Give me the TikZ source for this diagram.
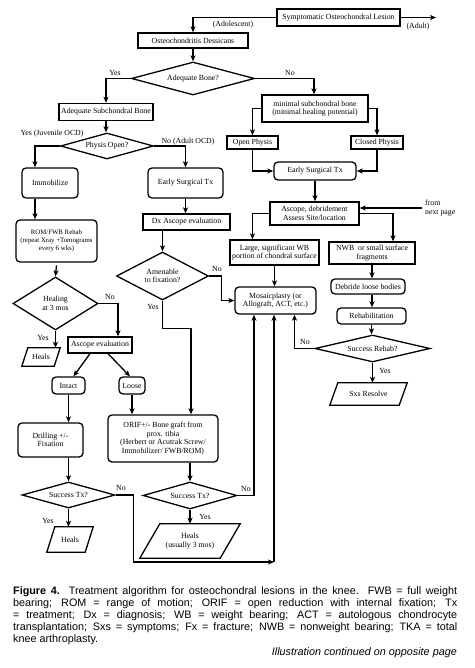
\documentclass[tikz,border=0pt]{standalone}
\usepackage{fontspec}
\setmainfont{Liberation Serif}
\newfontfamily\capfont{Liberation Sans}
\usetikzlibrary{shapes.geometric,arrows.meta,calc}
\newcommand\plgram[2]{\draw[line width=1.3pt,line join=miter] ([xshift=#2]#1.north west) -- (#1.north east) -- ([xshift=-#2]#1.south east) -- (#1.south west) -- cycle;}
\begin{document}
\begin{tikzpicture}[x=1pt,y=-1pt,
  every node/.style={font=\fontsize{7.8}{8.6}\selectfont, inner sep=0pt, align=center},
  sq/.style={draw, line width=1.3pt},
  rbox/.style={draw, line width=1.3pt, rounded corners=4pt},
  dia/.style={draw, diamond, line width=1.3pt},
  lbl/.style={font=\fontsize{7.8}{8.6}\selectfont},
  arr/.style={line width=1.3pt, -{Stealth[length=6pt,width=5pt,inset=1.5pt]}},
  ln/.style={line width=1.3pt}]
\useasboundingbox (0,0) rectangle (474,668);
% ---- nodes
\node[sq, minimum width=123pt, minimum height=17pt] (sym) at (338.5,17.5) {Symptomatic Osteochondral Lesion};
\node[sq, minimum width=110pt, minimum height=15pt] (ocd) at (193,40.5) {Osteochondritis Dessicans};
\node[dia, minimum width=123pt, minimum height=33pt, aspect=3.7] (adeq) at (193,78.5) {Adequate Bone?};
\node[sq, minimum width=94pt, minimum height=17pt] (asb) at (106,112) {Adequate Subchondral Bone};
\node[dia, minimum width=93pt, minimum height=26pt, aspect=3.6] (physis) at (107,146) {Physis Open?};
\node[rbox, minimum width=56pt, minimum height=30pt] (immob) at (50,183) {Immobilize};
\node[rbox, minimum width=81pt, minimum height=42pt, font=\fontsize{6.8}{8.3}\selectfont] (rom) at (56.5,241) {ROM/FWB Rehab\\(repeat Xray +Tomograms\\every 6 wks)};
\node[dia, minimum width=85pt, minimum height=53pt, aspect=1.6] (healing) at (55.5,303.5) {Healing\\at 3 mos};
\node[minimum width=38pt, minimum height=18pt] (heals1) at (41,357) {Heals};
\plgram{heals1}{6pt}
\node[sq, minimum width=64pt, minimum height=16pt] (ascev) at (100,345) {Ascope evaluation};
\node[rbox, minimum width=33pt, minimum height=17pt] (intact) at (68.5,385.5) {Intact};
\node[rbox, minimum width=26pt, minimum height=17pt] (loose) at (132,385.5) {Loose};
\node[rbox, minimum width=65pt, minimum height=34pt] (drill) at (50.5,440) {Drilling +/-\\Fixation};
\node[dia, minimum width=93pt, minimum height=26pt, aspect=3.6] (succ1) at (68.5,495) {Success Tx?};
\node[minimum width=46pt, minimum height=25pt] (heals2) at (70,539.5) {Heals};
\plgram{heals2}{8pt}
\node[rbox, minimum width=75pt, minimum height=30pt] (est1) at (185.5,183) {Early Surgical Tx};
\node[sq, minimum width=87pt, minimum height=16pt] (dx) at (186.5,222) {Dx Ascope evaluation};
\node[dia, minimum width=92pt, minimum height=48pt, aspect=1.9] (amen) at (162.5,276) {Amenable\\to fixation?};
\node[rbox, minimum width=110pt, minimum height=47pt] (orif) at (163,438.5) {ORIF+/- Bone graft from\\prox. tibia\\(Herbert or Acutrak Screw/\\Immobilizer/ FWB/ROM)};
\node[dia, minimum width=94pt, minimum height=27pt, aspect=3.5] (succ2) at (190,495.5) {Success Tx?};
\node[minimum width=100pt, minimum height=34pt] (heals3) at (190,541) {Heals\\(usually 3 mos)};
\plgram{heals3}{20pt}
\node[sq, minimum width=106pt, minimum height=27pt] (minimal) at (315,108.5) {minimal subchondral bone\\(minimal healing potential)};
\node[sq, minimum width=51pt, minimum height=13pt] (open) at (252.5,142.5) {Open Physis};
\node[sq, minimum width=52pt, minimum height=13pt] (closed) at (377,142.5) {Closed Physis};
\node[rbox, minimum width=82pt, minimum height=18pt] (est2) at (315,171) {Early Surgical Tx};
\node[sq, minimum width=89pt, minimum height=23pt] (ascdeb) at (314.5,213.5) {Ascope, debridement\\Assess Site/location};
\node[sq, minimum width=89pt, minimum height=25pt] (large) at (274.5,252.5) {Large, significant WB\\portion of chondral surface};
\node[sq, minimum width=86pt, minimum height=22pt] (nwb) at (372,253) {NWB\ \ or small surface\\fragments};
\node[rbox, minimum width=81pt, minimum height=27pt] (mosaic) at (275.5,300.5) {Mosaicplasty (or\\Allograft, ACT, etc.)};
\node[rbox, minimum width=74pt, minimum height=15pt] (debride) at (368,286.5) {Debride loose bodies};
\node[rbox, minimum width=69pt, minimum height=16pt] (rehab) at (371.5,316) {Rehabilitation};
\node[dia, minimum width=115pt, minimum height=27pt, aspect=4.2] (succr) at (372.5,348.5) {Success Rehab?};
\node[minimum width=77pt, minimum height=22pt] (sxs) at (368.5,394) {Sxs Resolve};
\plgram{sxs}{8pt}
% ---- free ends
\coordinate (adult) at (436,17.5);
\coordinate (fnp) at (422,208);
\coordinate (bot) at (274,562);
% ---- connectors
\draw[arr] (sym.west) -| (ocd.north);
\draw[arr] (sym.east) -- (adult);
\draw[arr] (ocd.south) -- (adeq.north);
\draw[arr] (adeq.west) -| (asb.north);
\draw[arr] (adeq.east) -| ([xshift=-1pt]minimal.north);
\draw[arr] (asb.south) -- (asb.south |- physis.north);
\draw[arr] (physis.west) -| ([xshift=-15pt]immob.north);
\draw[arr] (physis.east) -| (est1.north);
\draw[arr] ([xshift=-15pt]immob.south) -- ([xshift=-15pt]immob.south |- rom.north);
\draw[arr] (rom.south |- healing.north) ++(0,-11) -- (healing.north);
\draw[arr] (healing.south) -- (healing.south |- heals1.north);
\draw[arr] (healing.east) -| ([xshift=18pt]ascev.north);
\draw[arr] ([xshift=-10pt]ascev.south) -- ([xshift=5pt]intact.north);
\draw[arr] ([xshift=8pt]ascev.south) -- ([xshift=-2pt]loose.north);
\draw[arr] (intact.south) -- (intact.south |- drill.north);
\draw[arr] (intact.south |- drill.south) -- (succ1.north);
\draw[arr] (succ1.south) -- (succ1.south |- heals2.north);
\draw[arr] (succ1.east) -- ++(18,0) |- (bot);
\draw[arr] (bot) -- (bot |- mosaic.south);
\draw[arr] (est1.south) -- (est1.south |- dx.north);
\draw[arr] (amen.north |- dx.south) -- (amen.north);
\draw[arr] (amen.east) -- ++(12,0) |- (mosaic.west);
\draw[arr] (amen.south) -- ++(0,28) -| ([xshift=28pt]orif.north);
\draw[arr] (loose.south) -- (loose.south |- orif.north);
\draw[arr] (succ2.north |- orif.south) -- (succ2.north);
\draw[arr] (succ2.south) -- (succ2.south |- heals3.north);
\draw[arr] (succ2.east) -| ([xshift=-21.5pt]mosaic.south);
\draw[arr] (minimal.west) -| (open.north);
\draw[arr] (minimal.east) -| (closed.north);
\draw[arr] (open.south) |- (est2.west);
\draw[arr] (closed.south) |- (est2.east);
\draw[arr] (est2.south) -- (est2.south |- ascdeb.north);
\draw[arr] (fnp) -- (fnp -| ascdeb.east);
\draw[arr] (ascdeb.west) -| ([xshift=-22pt]large.north);
\draw[arr] (ascdeb.east) -| ([xshift=21pt]nwb.north);
\draw[arr] (large.south) -- (large.south |- mosaic.north);
\draw[arr] (nwb.south) -- (nwb.south |- debride.north);
\draw[arr] (nwb.south |- debride.south) -- (nwb.south |- rehab.north);
\draw[arr] (rehab.south) -- (rehab.south |- succr.north);
\draw[arr] (succr.south) -- (succr.south |- sxs.north);
\draw[arr] (succr.west) -| ([xshift=19pt]mosaic.south);
% ---- labels
\node[lbl] (l1) at (233,25) {(Adolescent)};
\node[lbl] (l2) at (418,27) {(Adult)};
\node[lbl] (l3) at (115,73) {Yes};
\node[lbl] (l4) at (290,73) {No};
\node[lbl] (l5) at (52,134) {Yes (Juvenile OCD)};
\node[lbl] (l6) at (188,142) {No (Adult OCD)};
\node[lbl] (l7) at (43,338) {Yes};
\node[lbl] (l8) at (110,297) {No};
\node[lbl] (l9) at (48,521) {Yes};
\node[lbl] (l10) at (121,488) {No};
\node[lbl] (l11) at (217,269) {No};
\node[lbl] (l12) at (153,307) {Yes};
\node[lbl] (l13) at (205,517) {Yes};
\node[lbl] (l14) at (246,489) {No};
\node[lbl] (l15) at (305,342) {No};
\node[lbl] (l16) at (385,371) {Yes};
\node[lbl, anchor=west, align=left] (l17) at (425,208) {from\\next page};
% ---- caption
\node[anchor=north west, text width=444pt, align=justify, font=\capfont\fontsize{10.8}{12}\selectfont] (cap) at (13,586.5) {\textbf{Figure 4.} Treatment algorithm for osteochondral lesions in the knee. FWB = full weight\linebreak bearing; ROM = range of motion; ORIF = open reduction with internal fixation; Tx\linebreak = treatment; Dx = diagnosis; WB = weight bearing; ACT = autologous chondrocyte\linebreak transplantation; Sxs = symptoms; Fx = fracture; NWB = nonweight bearing; TKA = total\linebreak knee arthroplasty.};
\node[anchor=east, font=\capfont\itshape\fontsize{10.8}{12}\selectfont] (ill) at (457,653) {Illustration continued on opposite page};
\end{tikzpicture}
\end{document}
